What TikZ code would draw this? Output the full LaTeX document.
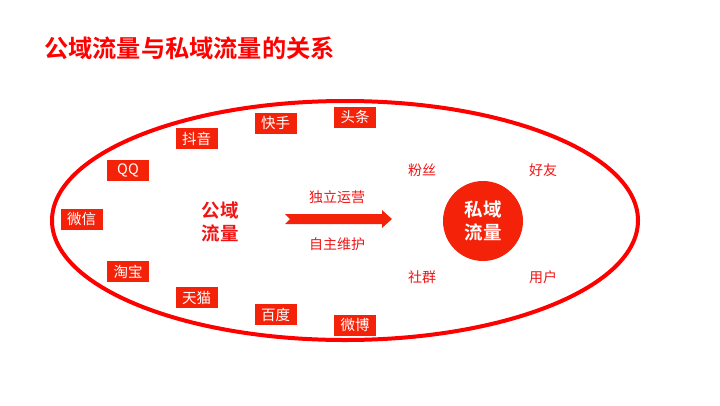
\documentclass[tikz,border=0pt]{standalone}
\usepackage{fontspec}
\setmainfont{Noto Sans CJK SC}[BoldFont={Noto Sans CJK SC Bold}]
\usetikzlibrary{shapes.geometric}
\definecolor{boxred}{RGB}{245,34,10}
\definecolor{linered}{RGB}{255,0,0}
\definecolor{txtred}{RGB}{240,20,20}
\tikzset{
  x=1pt,y=-1pt,
  plat/.style={fill=boxred,text=white,minimum width=42pt,minimum height=21pt,inner sep=0pt,font=\fontsize{14.5}{15}\selectfont},
  privlbl/.style={text=txtred,font=\fontsize{14}{15}\selectfont},
  biglbl/.style={font=\bfseries\fontsize{18.5}{23}\selectfont,align=center},
}
\begin{document}
\begin{tikzpicture}
\useasboundingbox (0,0) rectangle (720,405);
\node[text=linered,font=\bfseries\fontsize{24.2}{26}\selectfont,anchor=west,inner sep=0pt] (title) at (44,48) {公域流量与私域流量的关系};
\node[draw=linered,line width=4pt,ellipse,minimum width=586pt,minimum height=239pt,inner sep=0pt] (oval) at (345,220.5) {};
\node[plat] (douyin) at (196.5,138.5) {抖音};
\node[plat] (kuaishou) at (275.5,123.5) {快手};
\node[plat] (toutiao) at (355,117) {头条};
\node[plat] (qq) at (128,170) {QQ};
\node[plat] (weixin) at (81.5,219) {微信};
\node[plat] (taobao) at (128,271.5) {淘宝};
\node[plat] (tianmao) at (196.5,297.5) {天猫};
\node[plat] (baidu) at (275.5,314.5) {百度};
\node[plat] (weibo) at (355,325) {微博};
\node[biglbl,text=txtred] (pub) at (220,222) {公域\\流量};
\node[fill=boxred,circle,minimum size=80pt,inner sep=0pt] (priv) at (483,221) {};
\node[biglbl,text=white] (privt) at (priv) {私域\\流量};
\node[privlbl] (fensi) at (422,170) {粉丝};
\node[privlbl] (haoyou) at (543,170) {好友};
\node[privlbl] (shequn) at (422,277) {社群};
\node[privlbl] (yonghu) at (543,277) {用户};
\node[privlbl] (yunying) at (337,197) {独立运营};
\node[privlbl] (weihu) at (337,244) {自主维护};
\fill[boxred] (285,214) -- (382,214) -- (382,210) -- (392,219) -- (382,228) -- (382,224) -- (285,224) -- (290,219) -- cycle;
\end{tikzpicture}
\end{document}
